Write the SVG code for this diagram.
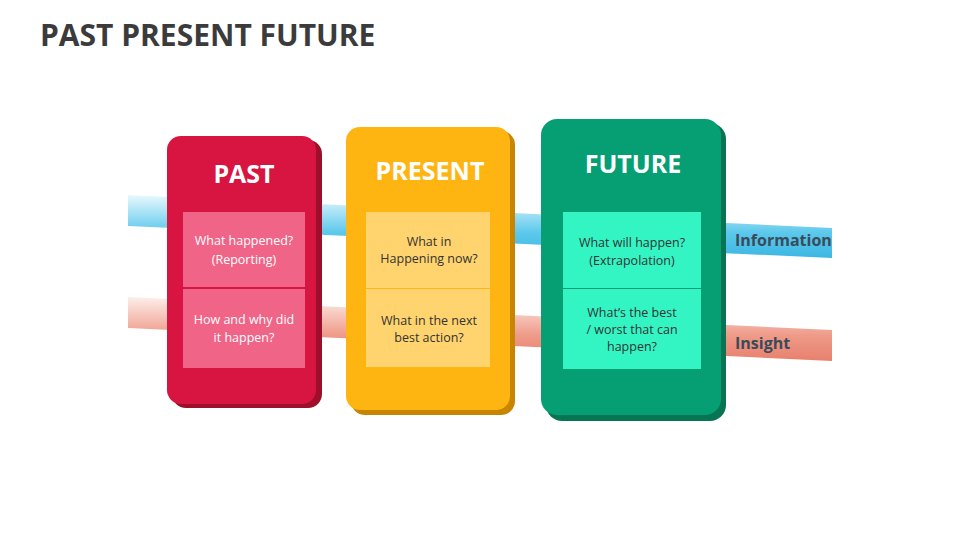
<svg xmlns="http://www.w3.org/2000/svg" width="960" height="540" viewBox="0 0 960 540">
<defs>
<linearGradient id="gb" x1="0" y1="0" x2="0" y2="1"><stop offset="0" stop-color="#e8f8fd"/><stop offset="0.6" stop-color="#5cc8ec"/><stop offset="1" stop-color="#3bb7e2"/></linearGradient>
<linearGradient id="gp" x1="0" y1="0" x2="0" y2="1"><stop offset="0" stop-color="#fdeeea"/><stop offset="0.6" stop-color="#ef9a88"/><stop offset="1" stop-color="#e8806e"/></linearGradient>
<style>
.t{font-family:"Open Sans","Liberation Sans",sans-serif;}
.h{font-weight:bold;fill:#fff;font-size:25px;text-anchor:middle}
.b{font-size:12.5px;text-anchor:middle}
.lb{font-weight:bold;font-size:16px;fill:#3a4b5a}
</style>
</defs>
<text x="40" y="46" class="t" font-weight="bold" font-size="30" fill="#3b3b3b">PAST PRESENT FUTURE</text>
<g id="connectors">
<polygon points="128,195 832,228 832,258 128,226" fill="url(#gb)"/>
<polygon points="128,297 832,330 832,361 128,328" fill="url(#gp)"/>
</g>
<g id="past">
<rect x="172" y="140" width="150" height="268" rx="14" fill="#9e0f2c"/>
<rect x="167" y="136" width="149" height="268" rx="14" fill="#d81440"/>
<rect x="183" y="212" width="122" height="75" fill="#f06487"/>
<rect x="183" y="289" width="122" height="79" fill="#f06487"/>
<text x="244" y="183" class="t h">PAST</text>
<text class="t b" fill="#fff"><tspan x="244" y="245">What happened?</tspan><tspan x="244" y="264">(Reporting)</tspan></text>
<text class="t b" fill="#fff"><tspan x="244" y="324">How and why did</tspan><tspan x="244" y="342">it happen?</tspan></text>
</g>
<g id="present">
<rect x="351" y="131" width="164" height="284" rx="14" fill="#c88600"/>
<rect x="346" y="127" width="164" height="283" rx="14" fill="#ffb511"/>
<rect x="366" y="212" width="124" height="76" fill="#ffd36e"/>
<rect x="366" y="289" width="124" height="78" fill="#ffd36e"/>
<text x="430" y="180" class="t h">PRESENT</text>
<text class="t b" fill="#333"><tspan x="429" y="246">What in</tspan><tspan x="429" y="263">Happening now?</tspan></text>
<text class="t b" fill="#333"><tspan x="429" y="325">What in the next</tspan><tspan x="429" y="342">best action?</tspan></text>
</g>
<g id="future">
<rect x="546" y="123" width="180" height="298" rx="16" fill="#077553"/>
<rect x="541" y="119" width="180" height="296" rx="16" fill="#069f74"/>
<rect x="563" y="212" width="138" height="76" fill="#33f5c4"/>
<rect x="563" y="289" width="138" height="80" fill="#33f5c4"/>
<text x="633" y="173" class="t h">FUTURE</text>
<text class="t b" fill="#333"><tspan x="632" y="247">What will happen?</tspan><tspan x="632" y="265">(Extrapolation)</tspan></text>
<text class="t b" fill="#333"><tspan x="632" y="317">What’s the best</tspan><tspan x="632" y="334">/ worst that can</tspan><tspan x="632" y="351">happen?</tspan></text>
</g>
<g id="labels">
<text x="735" y="246" class="t lb">Information</text>
<text x="735" y="349" class="t lb">Insight</text>
</g>
</svg>
